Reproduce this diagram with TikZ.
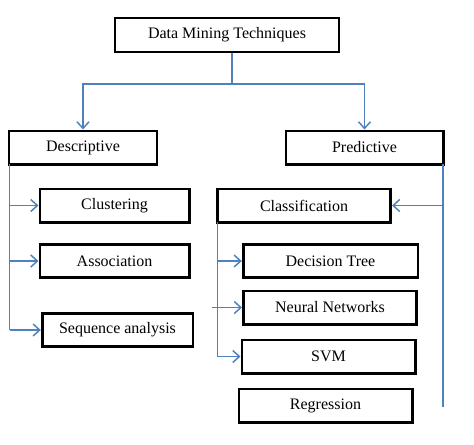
\documentclass[tikz,border=0pt]{standalone}
\usepackage{xcolor}
\usepackage{fontspec}
\setmainfont{Liberation Serif}
\usepackage{tikz}
\usetikzlibrary{arrows.meta}
\definecolor{linkblue}{RGB}{79,129,189}
\tikzstyle{box} = [rectangle, minimum height=25pt, inner sep=0pt, text centered, 
                   draw=black, fill=white, line width=2pt, font=\fontsize{12}{14}\selectfont]
\tikzstyle{link} = [draw=linkblue, line width=0.8pt]
\tikzstyle{arrow} = [link, -{Straight Barb[length=5pt, width=9pt, line width=1.1pt]}]
\tikzstyle{sidearrow} = [arrow, line width=1.2pt]

\begin{document}
\begin{tikzpicture}[x=0.75pt, y=-0.75pt]

\useasboundingbox (0,0) rectangle (474,444);

\node (top) [box, minimum width=168pt, minimum height=25.5pt] at (227,35) {Data Mining Techniques};
\node (desc) [box, minimum width=111pt] at (83,147.5) {Descriptive};
\node (pred) [box, minimum width=118pt] at (364.5,147.5) {Predictive};
\node (clust) [box, minimum width=112pt] at (114.5,205.5) {Clustering};
\node (assoc) [box, minimum width=112pt] at (114.5,261) {Association};
\node (seq) [box, minimum width=113pt] at (117.5,330) {Sequence analysis};
\node (class) [box, minimum width=130pt] at (304,205.5) {Classification};
\node (dt) [box, minimum width=131pt] at (330.5,261) {Decision Tree};
\node (nn) [box, minimum width=130pt] at (330,307.5) {Neural Networks};
\node (svm) [box, minimum width=130pt] at (328.5,356.5) {SVM};
\node (reg) [box, minimum width=130pt] at (325.5,405.5) {Regression};

\coordinate (split) at (232,84);
\coordinate (dline) at (9.5,164);
\coordinate (pline) at (443,164);
\coordinate (pend) at (443,407);
\coordinate (cline) at (217.5,222);

\draw [link] (top.south -| split) -- (split);
\draw [arrow] (split) -| (desc.north);
\draw [arrow] (split) -| (pred.north);

\draw [link] (dline) -- (dline |- seq.west);
\draw [sidearrow] (dline |- seq.west) -- (seq.west);
\draw [sidearrow] (dline |- clust.west) -- (clust.west);
\draw [sidearrow] (dline |- assoc.west) -- (assoc.west);

\draw [link] (pline) -- (pend);
\draw [sidearrow] (pline |- class.east) -- (class.east);

\draw [link] (cline) -- (cline |- svm.west);
\draw [sidearrow] (cline |- svm.west) -- (svm.west);
\draw [sidearrow] (cline |- dt.west) -- (dt.west);
\draw [sidearrow] ([xshift=-4]cline |- nn.west) -- (nn.west);

\end{tikzpicture}
\end{document}
